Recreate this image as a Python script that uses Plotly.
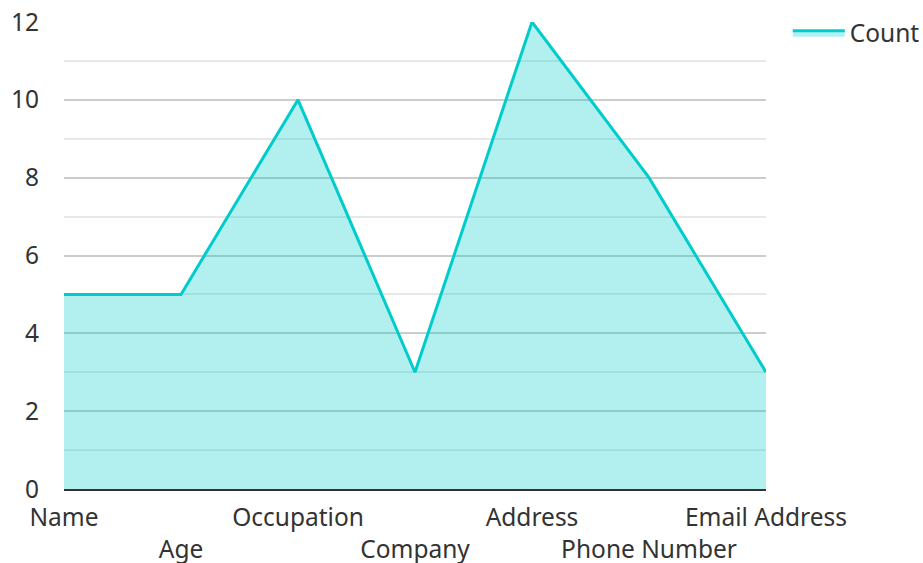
import plotly.graph_objects as go

categories = ["Name", "Age", "Occupation", "Company", "Address", "Phone Number", "Email Address"]
counts = [5, 5, 10, 3, 12, 8, 3]
series_name = "Count"

# staggered tick labels (every second label on a second line)
tick_text = [c if i % 2 == 0 else "<br>" + c for i, c in enumerate(categories)]

FONT = "Noto Sans"
TEXT = "#333333"
FS = 24.5

fig = go.Figure()
fig.add_trace(go.Scatter(
    x=list(range(len(categories))),
    y=counts,
    name=series_name,
    mode="lines",
    line=dict(color="rgb(0,204,204)", width=3),
    fill="tozeroy",
    fillcolor="rgba(0,204,204,0.3)",
))

fig.update_layout(
    width=923, height=563,
    margin=dict(l=64, r=157, t=22, b=74, autoexpand=False),
    paper_bgcolor="white",
    plot_bgcolor="white",
    font=dict(family=FONT, size=FS, color=TEXT),
    showlegend=True,
    legend=dict(x=1.031, y=1.025, xanchor="left", yanchor="top",
                itemwidth=52,
                font=dict(family=FONT, size=FS, color=TEXT),
                bgcolor="rgba(0,0,0,0)"),
    xaxis=dict(
        tickmode="array",
        tickvals=list(range(len(categories))),
        ticktext=tick_text,
        tickangle=0,
        automargin=False,
        ticklabeloverflow="allow",
        ticklabelstandoff=6,
        range=[0, len(categories) - 1],
        showgrid=False,
        zeroline=False,
        showline=True,
        linecolor="#333333",
        linewidth=2,
        ticks="",
        tickfont=dict(family=FONT, size=FS, color=TEXT),
        fixedrange=True,
    ),
    yaxis=dict(
        range=[0, 12],
        tickmode="linear",
        tick0=0,
        dtick=2,
        automargin=False,
        ticklabeloverflow="allow",
        showgrid=True,
        gridcolor="#cccccc",
        gridwidth=1.5,
        zeroline=False,
        showline=False,
        ticks="",
        ticklabelstandoff=24,
        tickfont=dict(family=FONT, size=FS, color=TEXT),
        minor=dict(dtick=1, showgrid=True, gridcolor="#e8e8e8", gridwidth=1.5),
        fixedrange=True,
    ),
)

# remove the default page margin so the 923x563 figure fills the window exactly
fig.write_html("out.html",
               config={"displayModeBar": False},
               post_script="document.body.style.margin='0';document.body.style.overflow='hidden';")
